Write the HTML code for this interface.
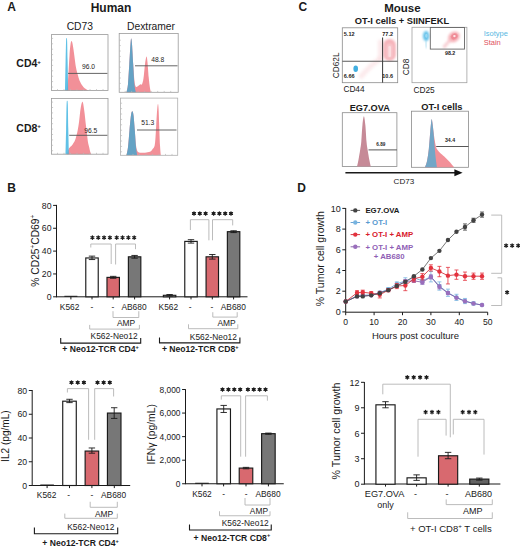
<!DOCTYPE html>
<html><head><meta charset="utf-8"><style>
html,body{margin:0;padding:0;background:#fff;width:520px;height:547px;overflow:hidden;}
svg{display:block;}
text{font-family:"Liberation Sans", sans-serif;}
</style></head><body>
<svg width="520" height="547" viewBox="0 0 520 547" font-family='"Liberation Sans", sans-serif'>
<rect width="520" height="547" fill="#ffffff"/>
<text x="7.2" y="10.6" font-size="12" font-weight="bold" fill="#1a1a1a" text-anchor="start">A</text>
<text x="90.7" y="12.1" font-size="12" font-weight="bold" fill="#1a1a1a" text-anchor="start">Human</text>
<text x="79.8" y="30.2" font-size="10.3" fill="#1a1a1a" text-anchor="middle">CD73</text>
<text x="151" y="30.2" font-size="10.3" fill="#1a1a1a" text-anchor="middle">Dextramer</text>
<text x="16.3" y="67.3" font-size="10.5" font-weight="bold" fill="#1a1a1a" text-anchor="start">CD4<tspan font-size="6.2" dy="-3.6">+</tspan></text>
<text x="16.3" y="131.9" font-size="10.5" font-weight="bold" fill="#1a1a1a" text-anchor="start">CD8<tspan font-size="6.2" dy="-3.6">+</tspan></text>
<path d="M66.50,90.50 C66.75,88.83 67.50,86.33 68.00,80.50 C68.50,74.67 69.08,61.50 69.50,55.50 C69.92,49.50 70.17,46.92 70.50,44.50 C70.83,42.08 71.17,41.17 71.50,41.00 C71.83,40.83 72.17,42.08 72.50,43.50 C72.83,44.92 73.15,47.13 73.50,49.50 C73.85,51.87 74.18,54.70 74.60,57.70 C75.02,60.70 75.48,64.68 76.00,67.50 C76.52,70.32 77.12,72.43 77.70,74.60 C78.28,76.77 78.73,78.68 79.50,80.50 C80.27,82.32 81.38,84.17 82.30,85.50 C83.22,86.83 83.97,87.67 85.00,88.50 C86.03,89.33 87.92,90.17 88.50,90.50 Z" fill="#f07c86" fill-opacity="0.85" stroke="none"/>
<path d="M65.00,90.50 C65.10,85.50 65.42,68.83 65.60,60.50 C65.78,52.17 65.93,44.20 66.10,40.50 C66.27,36.80 66.43,38.30 66.60,38.30 C66.77,38.30 66.93,36.80 67.10,40.50 C67.27,44.20 67.42,52.17 67.60,60.50 C67.78,68.83 68.10,85.50 68.20,90.50 Z" fill="#44b6e2" fill-opacity="0.85" stroke="none"/>
<rect x="51.5" y="34.6" width="56.5" height="55.9" fill="none" stroke="#9a9a9a" stroke-width="0.8"/>
<path d="M51.50,87.00h1.6M51.50,81.60h1.6M51.50,76.20h1.6M51.50,70.80h1.6M51.50,65.40h1.6M51.50,60.00h1.6M51.50,54.60h1.6M51.50,49.20h1.6M51.50,43.80h1.6M51.50,38.40h1.6M57.50,90.50v-1.4M64.00,90.50v-1.4M70.50,90.50v-1.4M77.00,90.50v-1.4M83.50,90.50v-1.4M90.00,90.50v-1.4M96.50,90.50v-1.4M103.00,90.50v-1.4" stroke="#b8b8b8" stroke-width="0.7" fill="none"/>
<line x1="68" y1="73.4" x2="107.4" y2="73.4" stroke="#555" stroke-width="0.9"/>
<text x="88.5" y="68.5" font-size="6.7" fill="#222" text-anchor="middle">96.0</text>
<path d="M126.50,92.30 C126.75,90.97 127.53,88.97 128.00,84.30 C128.47,79.63 128.88,70.97 129.30,64.30 C129.72,57.63 130.18,48.60 130.50,44.30 C130.82,40.00 130.95,38.50 131.20,38.50 C131.45,38.50 131.67,40.00 132.00,44.30 C132.33,48.60 132.80,58.30 133.20,64.30 C133.60,70.30 134.02,76.63 134.40,80.30 C134.78,83.97 135.07,85.22 135.50,86.30 C135.93,87.38 136.42,86.97 137.00,86.80 C137.58,86.63 138.42,85.72 139.00,85.30 C139.58,84.88 140.00,84.47 140.50,84.30 C141.00,84.13 141.50,85.30 142.00,84.30 C142.50,83.30 143.00,81.63 143.50,78.30 C144.00,74.97 144.50,67.93 145.00,64.30 C145.50,60.67 146.08,56.83 146.50,56.50 C146.92,56.17 147.13,58.83 147.50,62.30 C147.87,65.77 148.28,72.97 148.70,77.30 C149.12,81.63 149.62,85.80 150.00,88.30 C150.38,90.80 150.83,91.63 151.00,92.30 Z" fill="#f07c86" fill-opacity="0.85" stroke="none"/>
<path d="M126.50,92.30 C126.75,90.97 127.53,88.97 128.00,84.30 C128.47,79.63 128.88,70.97 129.30,64.30 C129.72,57.63 130.18,48.60 130.50,44.30 C130.82,40.00 130.95,38.50 131.20,38.50 C131.45,38.50 131.67,40.00 132.00,44.30 C132.33,48.60 132.80,57.63 133.20,64.30 C133.60,70.97 133.97,79.63 134.40,84.30 C134.83,88.97 135.57,90.97 135.80,92.30 Z" fill="#64a2c4" fill-opacity="1" stroke="none"/>
<rect x="119.2" y="33.4" width="58.999999999999986" height="58.9" fill="none" stroke="#9a9a9a" stroke-width="0.8"/>
<path d="M119.20,88.80h1.6M119.20,83.40h1.6M119.20,78.00h1.6M119.20,72.60h1.6M119.20,67.20h1.6M119.20,61.80h1.6M119.20,56.40h1.6M119.20,51.00h1.6M119.20,45.60h1.6M119.20,40.20h1.6M125.20,92.30v-1.4M131.70,92.30v-1.4M138.20,92.30v-1.4M144.70,92.30v-1.4M151.20,92.30v-1.4M157.70,92.30v-1.4M164.20,92.30v-1.4M170.70,92.30v-1.4" stroke="#b8b8b8" stroke-width="0.7" fill="none"/>
<line x1="135" y1="65.8" x2="177.5" y2="65.8" stroke="#555" stroke-width="0.9"/>
<text x="157.7" y="61.5" font-size="6.7" fill="#222" text-anchor="middle">48.8</text>
<path d="M67.00,154.20 C67.25,153.37 68.00,150.37 68.50,149.20 C69.00,148.03 69.42,147.87 70.00,147.20 C70.58,146.53 71.23,146.20 72.00,145.20 C72.77,144.20 73.93,142.53 74.60,141.20 C75.27,139.87 75.48,139.03 76.00,137.20 C76.52,135.37 77.20,132.70 77.70,130.20 C78.20,127.70 78.62,125.03 79.00,122.20 C79.38,119.37 79.67,115.87 80.00,113.20 C80.33,110.53 80.67,108.03 81.00,106.20 C81.33,104.37 81.73,102.90 82.00,102.20 C82.27,101.50 82.38,101.67 82.60,102.00 C82.82,102.33 82.97,102.33 83.30,104.20 C83.63,106.07 84.18,109.87 84.60,113.20 C85.02,116.53 85.42,120.82 85.80,124.20 C86.18,127.58 86.53,130.50 86.90,133.50 C87.27,136.50 87.62,139.92 88.00,142.20 C88.38,144.48 88.83,145.62 89.20,147.20 C89.57,148.78 89.87,150.53 90.20,151.70 C90.53,152.87 91.03,153.78 91.20,154.20 Z" fill="#f07c86" fill-opacity="0.85" stroke="none"/>
<path d="M65.50,154.20 C65.60,150.03 65.92,137.53 66.10,129.20 C66.28,120.87 66.42,108.90 66.60,104.20 C66.78,99.50 67.00,101.00 67.20,101.00 C67.40,101.00 67.62,99.50 67.80,104.20 C67.98,108.90 68.12,120.87 68.30,129.20 C68.48,137.53 68.80,150.03 68.90,154.20 Z" fill="#44b6e2" fill-opacity="0.85" stroke="none"/>
<rect x="51.5" y="98.4" width="56.5" height="55.79999999999998" fill="none" stroke="#9a9a9a" stroke-width="0.8"/>
<path d="M51.50,150.70h1.6M51.50,145.30h1.6M51.50,139.90h1.6M51.50,134.50h1.6M51.50,129.10h1.6M51.50,123.70h1.6M51.50,118.30h1.6M51.50,112.90h1.6M51.50,107.50h1.6M51.50,102.10h1.6M57.50,154.20v-1.4M64.00,154.20v-1.4M70.50,154.20v-1.4M77.00,154.20v-1.4M83.50,154.20v-1.4M90.00,154.20v-1.4M96.50,154.20v-1.4M103.00,154.20v-1.4" stroke="#b8b8b8" stroke-width="0.7" fill="none"/>
<line x1="69.2" y1="135.3" x2="107.4" y2="135.3" stroke="#555" stroke-width="0.9"/>
<text x="90.8" y="132.7" font-size="6.7" fill="#222" text-anchor="middle">96.5</text>
<path d="M126.50,155.30 C126.75,153.97 127.50,151.47 128.00,147.30 C128.50,143.13 129.00,135.63 129.50,130.30 C130.00,124.97 130.53,118.48 131.00,115.30 C131.47,112.12 131.88,111.20 132.30,111.20 C132.72,111.20 133.08,112.12 133.50,115.30 C133.92,118.48 134.38,125.30 134.80,130.30 C135.22,135.30 135.55,141.80 136.00,145.30 C136.45,148.80 136.83,150.07 137.50,151.30 C138.17,152.53 138.75,152.47 140.00,152.70 C141.25,152.93 143.33,152.85 145.00,152.70 C146.67,152.55 148.75,152.37 150.00,151.80 C151.25,151.23 151.73,150.30 152.50,149.30 C153.27,148.30 154.10,147.80 154.60,145.80 C155.10,143.80 155.23,140.63 155.50,137.30 C155.77,133.97 155.92,130.47 156.20,125.80 C156.48,121.13 156.90,112.95 157.20,109.30 C157.50,105.65 157.77,103.90 158.00,103.90 C158.23,103.90 158.40,105.65 158.60,109.30 C158.80,112.95 158.97,119.80 159.20,125.80 C159.43,131.80 159.73,140.38 160.00,145.30 C160.27,150.22 160.67,153.63 160.80,155.30 Z" fill="#f07c86" fill-opacity="0.85" stroke="none"/>
<path d="M126.50,155.30 C126.75,153.97 127.50,151.47 128.00,147.30 C128.50,143.13 129.00,135.63 129.50,130.30 C130.00,124.97 130.53,118.48 131.00,115.30 C131.47,112.12 131.88,111.20 132.30,111.20 C132.72,111.20 133.08,112.12 133.50,115.30 C133.92,118.48 134.38,124.97 134.80,130.30 C135.22,135.63 135.60,143.13 136.00,147.30 C136.40,151.47 137.00,153.97 137.20,155.30 Z" fill="#64a2c4" fill-opacity="1" stroke="none"/>
<rect x="120.5" y="98.1" width="57.19999999999999" height="57.20000000000002" fill="none" stroke="#b0b0b0" stroke-width="0.8"/>
<path d="M120.50,151.80h1.6M120.50,146.40h1.6M120.50,141.00h1.6M120.50,135.60h1.6M120.50,130.20h1.6M120.50,124.80h1.6M120.50,119.40h1.6M120.50,114.00h1.6M120.50,108.60h1.6M120.50,103.20h1.6M126.50,155.30v-1.4M133.00,155.30v-1.4M139.50,155.30v-1.4M146.00,155.30v-1.4M152.50,155.30v-1.4M159.00,155.30v-1.4M165.50,155.30v-1.4M172.00,155.30v-1.4" stroke="#b8b8b8" stroke-width="0.7" fill="none"/>
<line x1="137" y1="130" x2="176.5" y2="130" stroke="#555" stroke-width="0.9"/>
<text x="147.7" y="125" font-size="6.7" fill="#222" text-anchor="middle">51.3</text>
<text x="298.5" y="10.6" font-size="12" font-weight="bold" fill="#1a1a1a" text-anchor="start">C</text>
<text x="384.2" y="11.9" font-size="11.5" font-weight="bold" fill="#1a1a1a" text-anchor="start">Mouse</text>
<text x="354.8" y="24" font-size="9.3" font-weight="bold" fill="#1a1a1a" text-anchor="start">OT-I cells + SIINFEKL</text>
<defs><filter id="b1" x="-50%" y="-50%" width="200%" height="200%"><feGaussianBlur stdDeviation="0.9"/></filter><filter id="b2" x="-50%" y="-50%" width="200%" height="200%"><feGaussianBlur stdDeviation="1.6"/></filter><filter id="b05" x="-50%" y="-50%" width="200%" height="200%"><feGaussianBlur stdDeviation="0.5"/></filter></defs>
<rect x="342.3" y="27.8" width="55.39999999999998" height="54.900000000000006" fill="none" stroke="#8a8a8a" stroke-width="0.8"/>
<path d="M381,58 C374,63 366,70 360,78" stroke="#f6c4c9" stroke-width="5" fill="none" opacity="0.35" filter="url(#b2)"/>
<rect x="378" y="40" width="6" height="20" fill="#f8d4d8" opacity="0.5" filter="url(#b2)"/>
<rect x="383.4" y="39.0" width="12.4" height="21.8" rx="5.8" fill="#f6b3ba" filter="url(#b1)"/>
<rect x="386.4" y="43.5" width="6.4" height="15" rx="3.0" fill="#f8c8cd" filter="url(#b1)"/>
<rect x="388.4" y="46" width="2.6" height="11" rx="1.3" fill="#fbdde0" filter="url(#b05)"/>
<ellipse cx="355.7" cy="68.8" rx="2.3" ry="3.2" fill="#40aee0" filter="url(#b05)"/>
<line x1="342.3" y1="61.2" x2="397.7" y2="61.2" stroke="#5a5a5a" stroke-width="1.1"/>
<line x1="382.6" y1="37.5" x2="382.6" y2="82.7" stroke="#3a3a3a" stroke-width="1.0"/>
<text x="343.8" y="35.5" font-size="5.5" font-weight="bold" fill="#222" text-anchor="start">5.12</text>
<text x="382.3" y="35.5" font-size="5.5" font-weight="bold" fill="#222" text-anchor="start">77.2</text>
<text x="343.8" y="78.1" font-size="5.5" font-weight="bold" fill="#222" text-anchor="start">6.66</text>
<text x="382.3" y="78.1" font-size="5.5" font-weight="bold" fill="#222" text-anchor="start">10.6</text>
<text x="339.2" y="65.4" font-size="8.3" fill="#1a1a1a" text-anchor="middle" transform="rotate(-90 339.2 65.4)">CD62L</text>
<text x="343.4" y="91.5" font-size="8.3" fill="#1a1a1a" text-anchor="start">CD44</text>
<rect x="412" y="27.3" width="54.89999999999998" height="55.400000000000006" fill="none" stroke="#a0a0a0" stroke-width="0.8"/>
<path d="M450,40 C447.5,43 445.5,45.5 443.5,47.5" stroke="#f6c0c6" stroke-width="3.5" fill="none" opacity="0.7" filter="url(#b1)"/>
<ellipse cx="453.9" cy="36.9" rx="6.2" ry="5.2" transform="rotate(-35 453.9 36.9)" fill="#f6b6bc" filter="url(#b1)"/>
<ellipse cx="454.2" cy="36.4" rx="3.6" ry="3.0" transform="rotate(-35 454.2 36.4)" fill="#ef8a95" filter="url(#b05)"/>
<ellipse cx="454.4" cy="36.1" rx="1.3" ry="1.1" fill="#fde6e8" filter="url(#b05)"/>
<path d="M426,41 L426.6,48" stroke="#bfe5f4" stroke-width="2.2" fill="none" filter="url(#b1)"/>
<ellipse cx="426.1" cy="36.1" rx="3.2" ry="5.1" fill="#66c2ea" filter="url(#b1)"/>
<ellipse cx="426.4" cy="35.8" rx="1.3" ry="2" fill="#9ad8f2" filter="url(#b05)"/>
<rect x="430.3" y="27.5" width="34.2" height="21.6" fill="none" stroke="#666" stroke-width="0.9"/>
<text x="450.1" y="54.6" font-size="5.3" font-weight="bold" fill="#222" text-anchor="middle">98.2</text>
<text x="409.2" y="66.9" font-size="8.3" fill="#1a1a1a" text-anchor="middle" transform="rotate(-90 409.2 66.9)">CD8</text>
<text x="413.5" y="92.7" font-size="8.3" fill="#1a1a1a" text-anchor="start">CD25</text>
<text x="483.7" y="35.6" font-size="7.5" fill="#5ab8e2" text-anchor="start">Isotype</text>
<text x="483.7" y="45.4" font-size="7.5" fill="#e0505e" text-anchor="start">Stain</text>
<text x="349.7" y="110.8" font-size="9.2" font-weight="bold" fill="#1a1a1a" text-anchor="start">EG7.OVA</text>
<text x="421.2" y="110" font-size="9.3" font-weight="bold" fill="#1a1a1a" text-anchor="start">OT-I cells</text>
<rect x="342.3" y="112.7" width="54.599999999999966" height="53.8" fill="none" stroke="#8a8a8a" stroke-width="0.8"/>
<path d="M357.00,166.50 C357.24,165.42 357.93,162.75 358.45,160.00 C358.97,157.25 359.67,153.08 360.15,150.00 C360.62,146.92 360.92,145.67 361.30,141.50 C361.68,137.33 362.02,129.20 362.45,125.00 C362.88,120.80 363.42,116.30 363.90,116.30 C364.38,116.30 364.92,120.80 365.35,125.00 C365.78,129.20 366.12,137.33 366.50,141.50 C366.88,145.67 367.17,146.92 367.65,150.00 C368.12,153.08 368.83,157.25 369.35,160.00 C369.88,162.75 370.56,165.42 370.80,166.50 Z" fill="#c68a97" fill-opacity="1" stroke="none"/>
<line x1="368.5" y1="149.9" x2="396.9" y2="149.9" stroke="#444" stroke-width="0.9"/>
<text x="380.8" y="145.5" font-size="4.6" font-weight="bold" fill="#222" text-anchor="middle">6.89</text>
<rect x="411.5" y="111.2" width="57.0" height="56.10000000000001" fill="none" stroke="#8a8a8a" stroke-width="0.8"/>
<path d="M425.00,167.30 C425.33,166.30 426.37,164.30 427.00,161.30 C427.63,158.30 428.25,154.30 428.80,149.30 C429.35,144.30 429.83,136.22 430.30,131.30 C430.77,126.38 431.25,121.30 431.60,119.80 C431.95,118.30 432.07,120.22 432.40,122.30 C432.73,124.38 433.18,129.13 433.60,132.30 C434.02,135.47 434.45,138.72 434.90,141.30 C435.35,143.88 435.78,146.27 436.30,147.80 C436.82,149.33 437.38,149.68 438.00,150.50 C438.62,151.32 439.33,152.03 440.00,152.70 C440.67,153.37 441.33,153.90 442.00,154.50 C442.67,155.10 443.33,155.67 444.00,156.30 C444.67,156.93 445.33,157.63 446.00,158.30 C446.67,158.97 447.33,159.63 448.00,160.30 C448.67,160.97 449.33,161.57 450.00,162.30 C450.67,163.03 451.27,163.87 452.00,164.70 C452.73,165.53 454.00,166.87 454.40,167.30 Z" fill="#f07c86" fill-opacity="0.85" stroke="none"/>
<path d="M425.00,167.30 C425.33,166.30 426.37,164.30 427.00,161.30 C427.63,158.30 428.25,154.30 428.80,149.30 C429.35,144.30 429.85,136.25 430.30,131.30 C430.75,126.35 431.17,121.10 431.50,119.60 C431.83,118.10 431.97,120.18 432.30,122.30 C432.63,124.42 433.13,128.47 433.50,132.30 C433.87,136.13 434.15,141.13 434.50,145.30 C434.85,149.47 435.20,153.63 435.60,157.30 C436.00,160.97 436.68,165.63 436.90,167.30 Z" fill="#72a6c6" fill-opacity="1" stroke="none"/>
<line x1="436.2" y1="146.5" x2="468.5" y2="146.5" stroke="#444" stroke-width="0.9"/>
<text x="450" y="141.5" font-size="5.2" font-weight="bold" fill="#222" text-anchor="middle">34.4</text>
<line x1="345.4" y1="172.7" x2="455" y2="172.7" stroke="#1a1a1a" stroke-width="1.6"/>
<path d="M454.4,169.2 L462.6,172.7 L454.4,176.2 Z" fill="#111"/>
<text x="403.9" y="183.7" font-size="8.1" fill="#1a1a1a" text-anchor="middle">CD73</text>
<text x="7.2" y="191.9" font-size="12" font-weight="bold" fill="#1a1a1a" text-anchor="start">B</text>
<line x1="56.5" y1="204.9" x2="56.5" y2="297.3" stroke="#1a1a1a" stroke-width="1.0"/>
<line x1="53.1" y1="296.8" x2="56.5" y2="296.8" stroke="#1a1a1a" stroke-width="1.0"/>
<text x="51.5" y="299.932" font-size="8.7" fill="#1a1a1a" text-anchor="end">0</text>
<line x1="53.1" y1="273.95" x2="56.5" y2="273.95" stroke="#1a1a1a" stroke-width="1.0"/>
<text x="51.5" y="277.082" font-size="8.7" fill="#1a1a1a" text-anchor="end">20</text>
<line x1="53.1" y1="251.10000000000002" x2="56.5" y2="251.10000000000002" stroke="#1a1a1a" stroke-width="1.0"/>
<text x="51.5" y="254.23200000000003" font-size="8.7" fill="#1a1a1a" text-anchor="end">40</text>
<line x1="53.1" y1="228.25" x2="56.5" y2="228.25" stroke="#1a1a1a" stroke-width="1.0"/>
<text x="51.5" y="231.382" font-size="8.7" fill="#1a1a1a" text-anchor="end">60</text>
<line x1="53.1" y1="205.4" x2="56.5" y2="205.4" stroke="#1a1a1a" stroke-width="1.0"/>
<text x="51.5" y="208.532" font-size="8.7" fill="#1a1a1a" text-anchor="end">80</text>
<text x="39.3" y="250.7" font-size="10.25" fill="#1a1a1a" text-anchor="middle" transform="rotate(-90 39.3 250.7)">% CD25<tspan font-size="6.4" dy="-3.8">+</tspan><tspan dy="3.8">CD69</tspan><tspan font-size="6.4" dy="-3.8">+</tspan></text>
<line x1="56.5" y1="296.8" x2="247.5" y2="296.8" stroke="#1a1a1a" stroke-width="1.0"/>
<line x1="70.9" y1="296.8" x2="70.9" y2="299.40000000000003" stroke="#1a1a1a" stroke-width="1.0"/>
<line x1="92" y1="296.8" x2="92" y2="299.40000000000003" stroke="#1a1a1a" stroke-width="1.0"/>
<line x1="113.2" y1="296.8" x2="113.2" y2="299.40000000000003" stroke="#1a1a1a" stroke-width="1.0"/>
<line x1="134.6" y1="296.8" x2="134.6" y2="299.40000000000003" stroke="#1a1a1a" stroke-width="1.0"/>
<line x1="169.6" y1="296.8" x2="169.6" y2="299.40000000000003" stroke="#1a1a1a" stroke-width="1.0"/>
<line x1="191" y1="296.8" x2="191" y2="299.40000000000003" stroke="#1a1a1a" stroke-width="1.0"/>
<line x1="212.3" y1="296.8" x2="212.3" y2="299.40000000000003" stroke="#1a1a1a" stroke-width="1.0"/>
<line x1="233.6" y1="296.8" x2="233.6" y2="299.40000000000003" stroke="#1a1a1a" stroke-width="1.0"/>
<line x1="64.4" y1="296.3" x2="77.4" y2="296.3" stroke="#1a1a1a" stroke-width="1.0"/>
<rect x="85.78" y="257.96" width="12.45" height="38.84" fill="#ffffff" stroke="#1a1a1a" stroke-width="1.15"/>
<path d="M92.00,256.13L92.00,259.55M88.80,256.13L95.20,256.13M88.80,259.55L95.20,259.55" stroke="#1a1a1a" stroke-width="0.9"/>
<rect x="106.98" y="277.38" width="12.45" height="19.42" fill="#d8696f" stroke="#1a1a1a" stroke-width="1.15"/>
<path d="M113.20,276.35L113.20,278.29M110.00,276.35L116.40,276.35M110.00,278.29L116.40,278.29" stroke="#1a1a1a" stroke-width="0.9"/>
<rect x="128.38" y="256.81" width="12.45" height="39.99" fill="#777777" stroke="#1a1a1a" stroke-width="1.15"/>
<path d="M134.60,255.44L134.60,258.18M131.40,255.44L137.80,255.44M131.40,258.18L137.80,258.18" stroke="#1a1a1a" stroke-width="0.9"/>
<rect x="163.37" y="295.31" width="12.45" height="1.49" fill="#ffffff" stroke="#1a1a1a" stroke-width="1.15"/>
<path d="M169.60,294.51L169.60,296.00M166.40,294.51L172.80,294.51M166.40,296.00L172.80,296.00" stroke="#1a1a1a" stroke-width="0.9"/>
<rect x="184.77" y="241.39" width="12.45" height="55.41" fill="#ffffff" stroke="#1a1a1a" stroke-width="1.15"/>
<path d="M191.00,239.68L191.00,243.10M187.80,239.68L194.20,239.68M187.80,243.10L194.20,243.10" stroke="#1a1a1a" stroke-width="0.9"/>
<rect x="206.07" y="256.81" width="12.45" height="39.99" fill="#d8696f" stroke="#1a1a1a" stroke-width="1.15"/>
<path d="M212.30,254.53L212.30,259.10M209.10,254.53L215.50,254.53M209.10,259.10L215.50,259.10" stroke="#1a1a1a" stroke-width="0.9"/>
<rect x="227.37" y="231.68" width="12.45" height="65.12" fill="#777777" stroke="#1a1a1a" stroke-width="1.15"/>
<path d="M233.60,230.76L233.60,232.59M230.40,230.76L236.80,230.76M230.40,232.59L236.80,232.59" stroke="#1a1a1a" stroke-width="0.9"/>
<path d="M90.8,247.5 L90.8,244 L111.2,244 L111.2,264" fill="none" stroke="#b4b4b4" stroke-width="0.9"/>
<path d="M115.6,264.5 L115.6,244 L135.5,244 L135.5,249.2" fill="none" stroke="#b4b4b4" stroke-width="0.9"/>
<path d="M92.40,235.90L92.40,239.30M90.93,236.75L93.87,238.45M93.87,236.75L90.93,238.45" stroke="#1a1a1a" stroke-width="1.3" stroke-linecap="round"/>
<path d="M98.23,235.90L98.23,239.30M96.76,236.75L99.71,238.45M99.71,236.75L96.76,238.45" stroke="#1a1a1a" stroke-width="1.3" stroke-linecap="round"/>
<path d="M104.07,235.90L104.07,239.30M102.59,236.75L105.54,238.45M105.54,236.75L102.59,238.45" stroke="#1a1a1a" stroke-width="1.3" stroke-linecap="round"/>
<path d="M109.90,235.90L109.90,239.30M108.43,236.75L111.37,238.45M111.37,236.75L108.43,238.45" stroke="#1a1a1a" stroke-width="1.3" stroke-linecap="round"/>
<path d="M116.70,235.90L116.70,239.30M115.23,236.75L118.17,238.45M118.17,236.75L115.23,238.45" stroke="#1a1a1a" stroke-width="1.3" stroke-linecap="round"/>
<path d="M122.53,235.90L122.53,239.30M121.06,236.75L124.01,238.45M124.01,236.75L121.06,238.45" stroke="#1a1a1a" stroke-width="1.3" stroke-linecap="round"/>
<path d="M128.37,235.90L128.37,239.30M126.89,236.75L129.84,238.45M129.84,236.75L126.89,238.45" stroke="#1a1a1a" stroke-width="1.3" stroke-linecap="round"/>
<path d="M134.20,235.90L134.20,239.30M132.73,236.75L135.67,238.45M135.67,236.75L132.73,238.45" stroke="#1a1a1a" stroke-width="1.3" stroke-linecap="round"/>
<path d="M190.4,230 L190.4,219.7 L208.9,219.7 L208.9,240.3" fill="none" stroke="#b4b4b4" stroke-width="0.9"/>
<path d="M212.5,240.3 L212.5,219.7 L232.7,219.7 L232.7,225.4" fill="none" stroke="#b4b4b4" stroke-width="0.9"/>
<path d="M194.00,211.80L194.00,215.20M192.53,212.65L195.47,214.35M195.47,212.65L192.53,214.35" stroke="#1a1a1a" stroke-width="1.3" stroke-linecap="round"/>
<path d="M199.80,211.80L199.80,215.20M198.33,212.65L201.27,214.35M201.27,212.65L198.33,214.35" stroke="#1a1a1a" stroke-width="1.3" stroke-linecap="round"/>
<path d="M205.60,211.80L205.60,215.20M204.13,212.65L207.07,214.35M207.07,212.65L204.13,214.35" stroke="#1a1a1a" stroke-width="1.3" stroke-linecap="round"/>
<path d="M213.60,211.80L213.60,215.20M212.13,212.65L215.07,214.35M215.07,212.65L212.13,214.35" stroke="#1a1a1a" stroke-width="1.3" stroke-linecap="round"/>
<path d="M219.40,211.80L219.40,215.20M217.93,212.65L220.87,214.35M220.87,212.65L217.93,214.35" stroke="#1a1a1a" stroke-width="1.3" stroke-linecap="round"/>
<path d="M225.20,211.80L225.20,215.20M223.73,212.65L226.67,214.35M226.67,212.65L223.73,214.35" stroke="#1a1a1a" stroke-width="1.3" stroke-linecap="round"/>
<path d="M231.00,211.80L231.00,215.20M229.53,212.65L232.47,214.35M232.47,212.65L229.53,214.35" stroke="#1a1a1a" stroke-width="1.3" stroke-linecap="round"/>
<text x="69.6" y="309.5" font-size="8.4" fill="#1a1a1a" text-anchor="middle">K562</text>
<text x="91.8" y="309.5" font-size="8.4" fill="#1a1a1a" text-anchor="middle">-</text>
<text x="113" y="309.5" font-size="8.4" fill="#1a1a1a" text-anchor="middle">-</text>
<text x="134" y="309.5" font-size="8.4" fill="#1a1a1a" text-anchor="middle">AB680</text>
<text x="168.4" y="309.5" font-size="8.4" fill="#1a1a1a" text-anchor="middle">K562</text>
<text x="190.2" y="309.5" font-size="8.4" fill="#1a1a1a" text-anchor="middle">-</text>
<text x="211.8" y="309.5" font-size="8.4" fill="#1a1a1a" text-anchor="middle">-</text>
<text x="233.3" y="309.5" font-size="8.4" fill="#1a1a1a" text-anchor="middle">AB680</text>
<path d="M113,311.2 L113,317.5 L138.8,317.5 L138.8,311.2" fill="none" stroke="#b4b4b4" stroke-width="0.9"/>
<text x="135.2" y="326" font-size="8.4" fill="#1a1a1a" text-anchor="end">AMP</text>
<path d="M89.7,324.9 L89.7,329.1 L139.4,329.1 L139.4,324.9" fill="none" stroke="#b4b4b4" stroke-width="0.9"/>
<text x="137.6" y="338.7" font-size="8.4" fill="#1a1a1a" text-anchor="end">K562-Neo12</text>
<path d="M60.7,337.9 L60.7,343.1 L140.7,343.1 L140.7,337.9" fill="none" stroke="#1a1a1a" stroke-width="1.1"/>
<text x="100.6" y="352.4" font-size="8.6" font-weight="bold" fill="#1a1a1a" text-anchor="middle">+ Neo12-TCR CD4<tspan font-size="5.6" dy="-3.3">+</tspan></text>
<path d="M212.8,312.2 L212.8,317.1 L237.2,317.1 L237.2,312.2" fill="none" stroke="#b4b4b4" stroke-width="0.9"/>
<text x="235.7" y="326.4" font-size="8.4" fill="#1a1a1a" text-anchor="end">AMP</text>
<path d="M188.5,324.3 L188.5,328.7 L237.8,328.7 L237.8,324.3" fill="none" stroke="#b4b4b4" stroke-width="0.9"/>
<text x="236.9" y="339.7" font-size="8.4" fill="#1a1a1a" text-anchor="end">K562-Neo12</text>
<path d="M159.5,337.6 L159.5,342.9 L239.9,342.9 L239.9,337.6" fill="none" stroke="#1a1a1a" stroke-width="1.1"/>
<text x="200.2" y="351.8" font-size="8.6" font-weight="bold" fill="#1a1a1a" text-anchor="middle">+ Neo12-TCR CD8<tspan font-size="5.6" dy="-3.3">+</tspan></text>
<line x1="32.2" y1="390.0" x2="32.2" y2="486.0" stroke="#1a1a1a" stroke-width="1.0"/>
<line x1="28.800000000000004" y1="485.5" x2="32.2" y2="485.5" stroke="#1a1a1a" stroke-width="1.0"/>
<text x="27.200000000000003" y="488.632" font-size="8.7" fill="#1a1a1a" text-anchor="end">0</text>
<line x1="28.800000000000004" y1="461.75" x2="32.2" y2="461.75" stroke="#1a1a1a" stroke-width="1.0"/>
<text x="27.200000000000003" y="464.882" font-size="8.7" fill="#1a1a1a" text-anchor="end">20</text>
<line x1="28.800000000000004" y1="438.0" x2="32.2" y2="438.0" stroke="#1a1a1a" stroke-width="1.0"/>
<text x="27.200000000000003" y="441.132" font-size="8.7" fill="#1a1a1a" text-anchor="end">40</text>
<line x1="28.800000000000004" y1="414.25" x2="32.2" y2="414.25" stroke="#1a1a1a" stroke-width="1.0"/>
<text x="27.200000000000003" y="417.382" font-size="8.7" fill="#1a1a1a" text-anchor="end">60</text>
<line x1="28.800000000000004" y1="390.5" x2="32.2" y2="390.5" stroke="#1a1a1a" stroke-width="1.0"/>
<text x="27.200000000000003" y="393.632" font-size="8.7" fill="#1a1a1a" text-anchor="end">80</text>
<text x="8.6" y="436.1" font-size="10.1" fill="#1a1a1a" text-anchor="middle" transform="rotate(-90 8.6 436.1)">IL2 (pg/mL)</text>
<line x1="32.2" y1="485.5" x2="130.2" y2="485.5" stroke="#1a1a1a" stroke-width="1.0"/>
<line x1="47.1" y1="485.5" x2="47.1" y2="488.1" stroke="#1a1a1a" stroke-width="1.0"/>
<line x1="69.5" y1="485.5" x2="69.5" y2="488.1" stroke="#1a1a1a" stroke-width="1.0"/>
<line x1="91.9" y1="485.5" x2="91.9" y2="488.1" stroke="#1a1a1a" stroke-width="1.0"/>
<line x1="114.3" y1="485.5" x2="114.3" y2="488.1" stroke="#1a1a1a" stroke-width="1.0"/>
<line x1="40.300000000000004" y1="485.0" x2="53.9" y2="485.0" stroke="#1a1a1a" stroke-width="1.0"/>
<rect x="62.73" y="401.19" width="13.55" height="84.31" fill="#ffffff" stroke="#1a1a1a" stroke-width="1.15"/>
<path d="M69.50,399.29L69.50,402.61M66.30,399.29L72.70,399.29M66.30,402.61L72.70,402.61" stroke="#1a1a1a" stroke-width="0.9"/>
<rect x="85.13" y="451.06" width="13.55" height="34.44" fill="#d8696f" stroke="#1a1a1a" stroke-width="1.15"/>
<path d="M91.90,447.98L91.90,453.20M88.70,447.98L95.10,447.98M88.70,453.20L95.10,453.20" stroke="#1a1a1a" stroke-width="0.9"/>
<rect x="107.43" y="413.06" width="13.55" height="72.44" fill="#777777" stroke="#1a1a1a" stroke-width="1.15"/>
<path d="M114.20,407.72L114.20,418.41M111.00,407.72L117.40,407.72M111.00,418.41L117.40,418.41" stroke="#1a1a1a" stroke-width="0.9"/>
<path d="M67.4,392.5 L67.4,388.6 L88.6,388.6 L88.6,439.8" fill="none" stroke="#b4b4b4" stroke-width="0.9"/>
<path d="M94.7,439.8 L94.7,388.6 L113.6,388.6 L113.6,396.5" fill="none" stroke="#b4b4b4" stroke-width="0.9"/>
<path d="M71.50,380.80L71.50,384.20M70.03,381.65L72.97,383.35M72.97,381.65L70.03,383.35" stroke="#1a1a1a" stroke-width="1.3" stroke-linecap="round"/>
<path d="M77.70,380.80L77.70,384.20M76.23,381.65L79.17,383.35M79.17,381.65L76.23,383.35" stroke="#1a1a1a" stroke-width="1.3" stroke-linecap="round"/>
<path d="M83.90,380.80L83.90,384.20M82.43,381.65L85.37,383.35M85.37,381.65L82.43,383.35" stroke="#1a1a1a" stroke-width="1.3" stroke-linecap="round"/>
<path d="M97.50,380.80L97.50,384.20M96.03,381.65L98.97,383.35M98.97,381.65L96.03,383.35" stroke="#1a1a1a" stroke-width="1.3" stroke-linecap="round"/>
<path d="M103.65,380.80L103.65,384.20M102.18,381.65L105.12,383.35M105.12,381.65L102.18,383.35" stroke="#1a1a1a" stroke-width="1.3" stroke-linecap="round"/>
<path d="M109.80,380.80L109.80,384.20M108.33,381.65L111.27,383.35M111.27,381.65L108.33,383.35" stroke="#1a1a1a" stroke-width="1.3" stroke-linecap="round"/>
<text x="46.6" y="498.2" font-size="8.4" fill="#1a1a1a" text-anchor="middle">K562</text>
<text x="68.7" y="498.2" font-size="8.4" fill="#1a1a1a" text-anchor="middle">-</text>
<text x="91.9" y="498.2" font-size="8.4" fill="#1a1a1a" text-anchor="middle">-</text>
<text x="113.6" y="498.2" font-size="8.4" fill="#1a1a1a" text-anchor="middle">AB680</text>
<path d="M90.2,501.8 L90.2,507.3 L117.3,507.3 L117.3,501.8" fill="none" stroke="#b4b4b4" stroke-width="0.9"/>
<text x="113.1" y="516.6" font-size="8.4" fill="#1a1a1a" text-anchor="end">AMP</text>
<path d="M64.8,513.6 L64.8,518.3 L117.3,518.3 L117.3,513.6" fill="none" stroke="#b4b4b4" stroke-width="0.9"/>
<text x="114.3" y="529.5" font-size="8.4" fill="#1a1a1a" text-anchor="end">K562-Neo12</text>
<path d="M34.4,527.5 L34.4,533.8 L117.7,533.8 L117.7,527.5" fill="none" stroke="#1a1a1a" stroke-width="1.1"/>
<text x="80.6" y="545.8" font-size="8.6" font-weight="bold" fill="#1a1a1a" text-anchor="middle">+ Neo12-TCR CD4<tspan font-size="5.6" dy="-3.3">+</tspan></text>
<line x1="185.5" y1="389.2" x2="185.5" y2="484.2" stroke="#1a1a1a" stroke-width="1.0"/>
<line x1="182.1" y1="483.75" x2="185.5" y2="483.75" stroke="#1a1a1a" stroke-width="1.0"/>
<text x="180.5" y="486.774" font-size="8.4" fill="#1a1a1a" text-anchor="end">0</text>
<line x1="182.1" y1="460.188" x2="185.5" y2="460.188" stroke="#1a1a1a" stroke-width="1.0"/>
<text x="180.5" y="463.212" font-size="8.4" fill="#1a1a1a" text-anchor="end">2,000</text>
<line x1="182.1" y1="436.626" x2="185.5" y2="436.626" stroke="#1a1a1a" stroke-width="1.0"/>
<text x="180.5" y="439.65" font-size="8.4" fill="#1a1a1a" text-anchor="end">4,000</text>
<line x1="182.1" y1="413.064" x2="185.5" y2="413.064" stroke="#1a1a1a" stroke-width="1.0"/>
<text x="180.5" y="416.088" font-size="8.4" fill="#1a1a1a" text-anchor="end">6,000</text>
<line x1="182.1" y1="389.502" x2="185.5" y2="389.502" stroke="#1a1a1a" stroke-width="1.0"/>
<text x="180.5" y="392.526" font-size="8.4" fill="#1a1a1a" text-anchor="end">8,000</text>
<text x="155.3" y="434.3" font-size="10.35" fill="#1a1a1a" text-anchor="middle" transform="rotate(-90 155.3 434.3)">IFN&#947; (pg/mL)</text>
<line x1="185.5" y1="483.75" x2="283.75" y2="483.75" stroke="#1a1a1a" stroke-width="1.0"/>
<line x1="202" y1="483.75" x2="202" y2="486.35" stroke="#1a1a1a" stroke-width="1.0"/>
<line x1="223.6" y1="483.75" x2="223.6" y2="486.35" stroke="#1a1a1a" stroke-width="1.0"/>
<line x1="246" y1="483.75" x2="246" y2="486.35" stroke="#1a1a1a" stroke-width="1.0"/>
<line x1="268.4" y1="483.75" x2="268.4" y2="486.35" stroke="#1a1a1a" stroke-width="1.0"/>
<line x1="195.2" y1="483.25" x2="208.8" y2="483.25" stroke="#1a1a1a" stroke-width="1.0"/>
<rect x="216.92" y="408.94" width="13.55" height="74.81" fill="#ffffff" stroke="#1a1a1a" stroke-width="1.15"/>
<path d="M223.70,405.41L223.70,412.47M220.50,405.41L226.90,405.41M220.50,412.47L226.90,412.47" stroke="#1a1a1a" stroke-width="0.9"/>
<rect x="239.22" y="468.08" width="13.55" height="15.67" fill="#d8696f" stroke="#1a1a1a" stroke-width="1.15"/>
<path d="M246.00,467.37L246.00,468.79M242.80,467.37L249.20,467.37M242.80,468.79L249.20,468.79" stroke="#1a1a1a" stroke-width="0.9"/>
<rect x="261.62" y="433.68" width="13.55" height="50.07" fill="#777777" stroke="#1a1a1a" stroke-width="1.15"/>
<path d="M268.40,433.09L268.40,434.27M265.20,433.09L271.60,433.09M265.20,434.27L271.60,434.27" stroke="#1a1a1a" stroke-width="0.9"/>
<path d="M221.3,399.6 L221.3,395.8 L240.7,395.8 L240.7,456.7" fill="none" stroke="#b4b4b4" stroke-width="0.9"/>
<path d="M245.6,456.7 L245.6,395.8 L267.4,395.8 L267.4,400.7" fill="none" stroke="#b4b4b4" stroke-width="0.9"/>
<path d="M222.50,387.80L222.50,391.20M221.03,388.65L223.97,390.35M223.97,388.65L221.03,390.35" stroke="#1a1a1a" stroke-width="1.3" stroke-linecap="round"/>
<path d="M228.40,387.80L228.40,391.20M226.93,388.65L229.87,390.35M229.87,388.65L226.93,390.35" stroke="#1a1a1a" stroke-width="1.3" stroke-linecap="round"/>
<path d="M234.30,387.80L234.30,391.20M232.83,388.65L235.77,390.35M235.77,388.65L232.83,390.35" stroke="#1a1a1a" stroke-width="1.3" stroke-linecap="round"/>
<path d="M240.20,387.80L240.20,391.20M238.73,388.65L241.67,390.35M241.67,388.65L238.73,390.35" stroke="#1a1a1a" stroke-width="1.3" stroke-linecap="round"/>
<path d="M247.90,387.80L247.90,391.20M246.43,388.65L249.37,390.35M249.37,388.65L246.43,390.35" stroke="#1a1a1a" stroke-width="1.3" stroke-linecap="round"/>
<path d="M253.77,387.80L253.77,391.20M252.29,388.65L255.24,390.35M255.24,388.65L252.29,390.35" stroke="#1a1a1a" stroke-width="1.3" stroke-linecap="round"/>
<path d="M259.63,387.80L259.63,391.20M258.16,388.65L261.11,390.35M261.11,388.65L258.16,390.35" stroke="#1a1a1a" stroke-width="1.3" stroke-linecap="round"/>
<path d="M265.50,387.80L265.50,391.20M264.03,388.65L266.97,390.35M266.97,388.65L264.03,390.35" stroke="#1a1a1a" stroke-width="1.3" stroke-linecap="round"/>
<text x="202" y="497.3" font-size="8.4" fill="#1a1a1a" text-anchor="middle">K562</text>
<text x="223.75" y="497.3" font-size="8.4" fill="#1a1a1a" text-anchor="middle">-</text>
<text x="246.25" y="497.3" font-size="8.4" fill="#1a1a1a" text-anchor="middle">-</text>
<text x="268" y="497.3" font-size="8.4" fill="#1a1a1a" text-anchor="middle">AB680</text>
<path d="M245,498 L245,505 L270,505 L270,498" fill="none" stroke="#b4b4b4" stroke-width="0.9"/>
<text x="268" y="513.75" font-size="8.4" fill="#1a1a1a" text-anchor="end">AMP</text>
<path d="M219.5,511.25 L219.5,515.75 L270,515.75 L270,511.25" fill="none" stroke="#b4b4b4" stroke-width="0.9"/>
<text x="268.75" y="526.25" font-size="8.4" fill="#1a1a1a" text-anchor="end">K562-Neo12</text>
<path d="M189.5,524.5 L189.5,530 L271.25,530 L271.25,524.5" fill="none" stroke="#1a1a1a" stroke-width="1.1"/>
<text x="231.9" y="540.5" font-size="8.6" font-weight="bold" fill="#1a1a1a" text-anchor="middle">+ Neo12-TCR CD8<tspan font-size="5.6" dy="-3.3">+</tspan></text>
<text x="297.3" y="191.6" font-size="12" font-weight="bold" fill="#1a1a1a" text-anchor="start">D</text>
<line x1="345.7" y1="208.0" x2="345.7" y2="312.4" stroke="#1a1a1a" stroke-width="1.0"/>
<line x1="342.3" y1="311.9" x2="345.7" y2="311.9" stroke="#1a1a1a" stroke-width="1.0"/>
<text x="340.7" y="315.14" font-size="9" fill="#1a1a1a" text-anchor="end">0</text>
<line x1="342.3" y1="291.2" x2="345.7" y2="291.2" stroke="#1a1a1a" stroke-width="1.0"/>
<text x="340.7" y="294.44" font-size="9" fill="#1a1a1a" text-anchor="end">2</text>
<line x1="342.3" y1="270.5" x2="345.7" y2="270.5" stroke="#1a1a1a" stroke-width="1.0"/>
<text x="340.7" y="273.74" font-size="9" fill="#1a1a1a" text-anchor="end">4</text>
<line x1="342.3" y1="249.79999999999998" x2="345.7" y2="249.79999999999998" stroke="#1a1a1a" stroke-width="1.0"/>
<text x="340.7" y="253.04" font-size="9" fill="#1a1a1a" text-anchor="end">6</text>
<line x1="342.3" y1="229.09999999999997" x2="345.7" y2="229.09999999999997" stroke="#1a1a1a" stroke-width="1.0"/>
<text x="340.7" y="232.33999999999997" font-size="9" fill="#1a1a1a" text-anchor="end">8</text>
<line x1="342.3" y1="208.39999999999998" x2="345.7" y2="208.39999999999998" stroke="#1a1a1a" stroke-width="1.0"/>
<text x="340.7" y="211.64" font-size="9" fill="#1a1a1a" text-anchor="end">10</text>
<line x1="345.7" y1="312.2" x2="487.7" y2="312.2" stroke="#1a1a1a" stroke-width="1.0"/>
<line x1="345.7" y1="312.2" x2="345.7" y2="315.2" stroke="#1a1a1a" stroke-width="1.0"/>
<line x1="374.09999999999997" y1="312.2" x2="374.09999999999997" y2="315.2" stroke="#1a1a1a" stroke-width="1.0"/>
<line x1="402.5" y1="312.2" x2="402.5" y2="315.2" stroke="#1a1a1a" stroke-width="1.0"/>
<line x1="430.9" y1="312.2" x2="430.9" y2="315.2" stroke="#1a1a1a" stroke-width="1.0"/>
<line x1="459.29999999999995" y1="312.2" x2="459.29999999999995" y2="315.2" stroke="#1a1a1a" stroke-width="1.0"/>
<line x1="487.7" y1="312.2" x2="487.7" y2="315.2" stroke="#1a1a1a" stroke-width="1.0"/>
<text x="345.7" y="324.8" font-size="8.6" fill="#1a1a1a" text-anchor="middle">0</text>
<text x="374.09999999999997" y="324.8" font-size="8.6" fill="#1a1a1a" text-anchor="middle">10</text>
<text x="402.5" y="324.8" font-size="8.6" fill="#1a1a1a" text-anchor="middle">20</text>
<text x="430.9" y="324.8" font-size="8.6" fill="#1a1a1a" text-anchor="middle">30</text>
<text x="459.29999999999995" y="324.8" font-size="8.6" fill="#1a1a1a" text-anchor="middle">40</text>
<text x="487.7" y="324.8" font-size="8.6" fill="#1a1a1a" text-anchor="middle">50</text>
<text x="415.5" y="338.6" font-size="9.5" fill="#1a1a1a" text-anchor="middle">Hours post coculture</text>
<text x="323.6" y="258.7" font-size="10.5" fill="#1a1a1a" text-anchor="middle" transform="rotate(-90 323.6 258.7)">% Tumor cell growth</text>
<path d="M345.70,301.55 L357.06,295.86 L362.74,295.34 L371.26,294.82 L379.78,292.75 L388.30,289.13 L396.82,283.95 L405.34,280.85 L413.86,277.75 L422.38,280.85 L430.90,276.71 L439.42,286.02 L447.94,292.75 L456.46,297.41 L464.98,301.03 L473.50,303.41 L482.02,305.07" fill="none" stroke="#5a9ad0" stroke-width="0.8"/>
<path d="M357.06,294.30L357.06,297.41M355.06,294.30L359.06,294.30M355.06,297.41L359.06,297.41" stroke="#78b4e0" stroke-width="0.8"/>
<path d="M362.74,293.79L362.74,296.89M360.74,293.79L364.74,293.79M360.74,296.89L364.74,296.89" stroke="#78b4e0" stroke-width="0.8"/>
<path d="M379.78,291.20L379.78,294.30M377.78,291.20L381.78,291.20M377.78,294.30L381.78,294.30" stroke="#78b4e0" stroke-width="0.8"/>
<path d="M388.30,287.58L388.30,290.68M386.30,287.58L390.30,287.58M386.30,290.68L390.30,290.68" stroke="#78b4e0" stroke-width="0.8"/>
<path d="M396.82,281.88L396.82,286.02M394.82,281.88L398.82,281.88M394.82,286.02L398.82,286.02" stroke="#78b4e0" stroke-width="0.8"/>
<path d="M405.34,277.75L405.34,283.95M403.34,277.75L407.34,277.75M403.34,283.95L407.34,283.95" stroke="#78b4e0" stroke-width="0.8"/>
<path d="M413.86,275.67L413.86,279.81M411.86,275.67L415.86,275.67M411.86,279.81L415.86,279.81" stroke="#78b4e0" stroke-width="0.8"/>
<path d="M422.38,277.75L422.38,283.95M420.38,277.75L424.38,277.75M420.38,283.95L424.38,283.95" stroke="#78b4e0" stroke-width="0.8"/>
<path d="M430.90,271.53L430.90,281.88M428.90,271.53L432.90,271.53M428.90,281.88L432.90,281.88" stroke="#78b4e0" stroke-width="0.8"/>
<path d="M439.42,281.88L439.42,290.16M437.42,281.88L441.42,281.88M437.42,290.16L441.42,290.16" stroke="#78b4e0" stroke-width="0.8"/>
<path d="M447.94,289.13L447.94,296.38M445.94,289.13L449.94,289.13M445.94,296.38L449.94,296.38" stroke="#78b4e0" stroke-width="0.8"/>
<path d="M456.46,294.30L456.46,300.51M454.46,294.30L458.46,294.30M454.46,300.51L458.46,300.51" stroke="#78b4e0" stroke-width="0.8"/>
<path d="M464.98,298.44L464.98,303.62M462.98,298.44L466.98,298.44M462.98,303.62L466.98,303.62" stroke="#78b4e0" stroke-width="0.8"/>
<path d="M473.50,301.86L473.50,304.97M471.50,301.86L475.50,301.86M471.50,304.97L475.50,304.97" stroke="#78b4e0" stroke-width="0.8"/>
<circle cx="345.70" cy="301.55" r="2.2" fill="#78b4e0"/>
<circle cx="357.06" cy="295.86" r="2.2" fill="#78b4e0"/>
<circle cx="362.74" cy="295.34" r="2.2" fill="#78b4e0"/>
<circle cx="371.26" cy="294.82" r="2.2" fill="#78b4e0"/>
<circle cx="379.78" cy="292.75" r="2.2" fill="#78b4e0"/>
<circle cx="388.30" cy="289.13" r="2.2" fill="#78b4e0"/>
<circle cx="396.82" cy="283.95" r="2.2" fill="#78b4e0"/>
<circle cx="405.34" cy="280.85" r="2.2" fill="#78b4e0"/>
<circle cx="413.86" cy="277.75" r="2.2" fill="#78b4e0"/>
<circle cx="422.38" cy="280.85" r="2.2" fill="#78b4e0"/>
<circle cx="430.90" cy="276.71" r="2.2" fill="#78b4e0"/>
<circle cx="439.42" cy="286.02" r="2.2" fill="#78b4e0"/>
<circle cx="447.94" cy="292.75" r="2.2" fill="#78b4e0"/>
<circle cx="456.46" cy="297.41" r="2.2" fill="#78b4e0"/>
<circle cx="464.98" cy="301.03" r="2.2" fill="#78b4e0"/>
<circle cx="473.50" cy="303.41" r="2.2" fill="#78b4e0"/>
<circle cx="482.02" cy="305.07" r="2.2" fill="#78b4e0"/>
<path d="M345.70,301.55 L357.06,296.38 L362.74,295.86 L371.26,295.34 L379.78,292.75 L388.30,290.16 L396.82,286.02 L405.34,281.37 L413.86,280.85 L422.38,282.20 L430.90,276.92 L439.42,286.85 L447.94,293.06 L456.46,297.72 L464.98,301.24 L473.50,303.52 L482.02,305.07" fill="none" stroke="#7a52a0" stroke-width="0.8"/>
<path d="M396.82,284.47L396.82,287.58M394.82,284.47L398.82,284.47M394.82,287.58L398.82,287.58" stroke="#9a6ebc" stroke-width="0.8"/>
<path d="M405.34,279.81L405.34,282.92M403.34,279.81L407.34,279.81M403.34,282.92L407.34,282.92" stroke="#9a6ebc" stroke-width="0.8"/>
<path d="M413.86,279.30L413.86,282.40M411.86,279.30L415.86,279.30M411.86,282.40L415.86,282.40" stroke="#9a6ebc" stroke-width="0.8"/>
<path d="M422.38,280.13L422.38,284.27M420.38,280.13L424.38,280.13M420.38,284.27L424.38,284.27" stroke="#9a6ebc" stroke-width="0.8"/>
<path d="M430.90,274.85L430.90,278.99M428.90,274.85L432.90,274.85M428.90,278.99L432.90,278.99" stroke="#9a6ebc" stroke-width="0.8"/>
<path d="M439.42,284.78L439.42,288.92M437.42,284.78L441.42,284.78M437.42,288.92L441.42,288.92" stroke="#9a6ebc" stroke-width="0.8"/>
<path d="M447.94,291.51L447.94,294.62M445.94,291.51L449.94,291.51M445.94,294.62L449.94,294.62" stroke="#9a6ebc" stroke-width="0.8"/>
<circle cx="345.70" cy="301.55" r="2.2" fill="#9a6ebc"/>
<circle cx="357.06" cy="296.38" r="2.2" fill="#9a6ebc"/>
<circle cx="362.74" cy="295.86" r="2.2" fill="#9a6ebc"/>
<circle cx="371.26" cy="295.34" r="2.2" fill="#9a6ebc"/>
<circle cx="379.78" cy="292.75" r="2.2" fill="#9a6ebc"/>
<circle cx="388.30" cy="290.16" r="2.2" fill="#9a6ebc"/>
<circle cx="396.82" cy="286.02" r="2.2" fill="#9a6ebc"/>
<circle cx="405.34" cy="281.37" r="2.2" fill="#9a6ebc"/>
<circle cx="413.86" cy="280.85" r="2.2" fill="#9a6ebc"/>
<circle cx="422.38" cy="282.20" r="2.2" fill="#9a6ebc"/>
<circle cx="430.90" cy="276.92" r="2.2" fill="#9a6ebc"/>
<circle cx="439.42" cy="286.85" r="2.2" fill="#9a6ebc"/>
<circle cx="447.94" cy="293.06" r="2.2" fill="#9a6ebc"/>
<circle cx="456.46" cy="297.72" r="2.2" fill="#9a6ebc"/>
<circle cx="464.98" cy="301.24" r="2.2" fill="#9a6ebc"/>
<circle cx="473.50" cy="303.52" r="2.2" fill="#9a6ebc"/>
<circle cx="482.02" cy="305.07" r="2.2" fill="#9a6ebc"/>
<path d="M345.70,301.55 L357.06,292.75 L362.74,292.23 L371.26,293.27 L379.78,294.82 L388.30,290.16 L396.82,286.02 L405.34,285.51 L413.86,278.78 L422.38,276.71 L430.90,267.91 L439.42,271.53 L447.94,275.67 L456.46,274.64 L464.98,276.19 L473.50,276.19 L482.02,276.19" fill="none" stroke="#d0202c" stroke-width="0.8"/>
<path d="M357.06,290.68L357.06,294.82M355.06,290.68L359.06,290.68M355.06,294.82L359.06,294.82" stroke="#e3323e" stroke-width="0.8"/>
<path d="M362.74,290.16L362.74,294.30M360.74,290.16L364.74,290.16M360.74,294.30L364.74,294.30" stroke="#e3323e" stroke-width="0.8"/>
<path d="M371.26,291.72L371.26,294.82M369.26,291.72L373.26,291.72M369.26,294.82L373.26,294.82" stroke="#e3323e" stroke-width="0.8"/>
<path d="M379.78,291.72L379.78,297.93M377.78,291.72L381.78,291.72M377.78,297.93L381.78,297.93" stroke="#e3323e" stroke-width="0.8"/>
<path d="M388.30,288.61L388.30,291.72M386.30,288.61L390.30,288.61M386.30,291.72L390.30,291.72" stroke="#e3323e" stroke-width="0.8"/>
<path d="M396.82,283.44L396.82,288.61M394.82,283.44L398.82,283.44M394.82,288.61L398.82,288.61" stroke="#e3323e" stroke-width="0.8"/>
<path d="M405.34,280.33L405.34,290.68M403.34,280.33L407.34,280.33M403.34,290.68L407.34,290.68" stroke="#e3323e" stroke-width="0.8"/>
<path d="M413.86,275.67L413.86,281.88M411.86,275.67L415.86,275.67M411.86,281.88L415.86,281.88" stroke="#e3323e" stroke-width="0.8"/>
<path d="M422.38,273.60L422.38,279.81M420.38,273.60L424.38,273.60M420.38,279.81L424.38,279.81" stroke="#e3323e" stroke-width="0.8"/>
<path d="M430.90,264.81L430.90,271.02M428.90,264.81L432.90,264.81M428.90,271.02L432.90,271.02" stroke="#e3323e" stroke-width="0.8"/>
<path d="M439.42,266.36L439.42,276.71M437.42,266.36L441.42,266.36M437.42,276.71L441.42,276.71" stroke="#e3323e" stroke-width="0.8"/>
<path d="M447.94,267.39L447.94,283.95M445.94,267.39L449.94,267.39M445.94,283.95L449.94,283.95" stroke="#e3323e" stroke-width="0.8"/>
<path d="M456.46,269.98L456.46,279.30M454.46,269.98L458.46,269.98M454.46,279.30L458.46,279.30" stroke="#e3323e" stroke-width="0.8"/>
<path d="M464.98,272.05L464.98,280.33M462.98,272.05L466.98,272.05M462.98,280.33L466.98,280.33" stroke="#e3323e" stroke-width="0.8"/>
<path d="M473.50,273.09L473.50,279.30M471.50,273.09L475.50,273.09M471.50,279.30L475.50,279.30" stroke="#e3323e" stroke-width="0.8"/>
<path d="M482.02,273.09L482.02,279.30M480.02,273.09L484.02,273.09M480.02,279.30L484.02,279.30" stroke="#e3323e" stroke-width="0.8"/>
<circle cx="345.70" cy="301.55" r="2.2" fill="#e3323e"/>
<circle cx="357.06" cy="292.75" r="2.2" fill="#e3323e"/>
<circle cx="362.74" cy="292.23" r="2.2" fill="#e3323e"/>
<circle cx="371.26" cy="293.27" r="2.2" fill="#e3323e"/>
<circle cx="379.78" cy="294.82" r="2.2" fill="#e3323e"/>
<circle cx="388.30" cy="290.16" r="2.2" fill="#e3323e"/>
<circle cx="396.82" cy="286.02" r="2.2" fill="#e3323e"/>
<circle cx="405.34" cy="285.51" r="2.2" fill="#e3323e"/>
<circle cx="413.86" cy="278.78" r="2.2" fill="#e3323e"/>
<circle cx="422.38" cy="276.71" r="2.2" fill="#e3323e"/>
<circle cx="430.90" cy="267.91" r="2.2" fill="#e3323e"/>
<circle cx="439.42" cy="271.53" r="2.2" fill="#e3323e"/>
<circle cx="447.94" cy="275.67" r="2.2" fill="#e3323e"/>
<circle cx="456.46" cy="274.64" r="2.2" fill="#e3323e"/>
<circle cx="464.98" cy="276.19" r="2.2" fill="#e3323e"/>
<circle cx="473.50" cy="276.19" r="2.2" fill="#e3323e"/>
<circle cx="482.02" cy="276.19" r="2.2" fill="#e3323e"/>
<path d="M345.70,301.55 L357.06,296.38 L362.74,296.38 L371.26,295.34 L379.78,293.27 L388.30,290.16 L396.82,286.02 L405.34,281.88 L413.86,276.19 L422.38,269.46 L430.90,258.08 L439.42,250.83 L447.94,239.97 L456.46,231.69 L464.98,227.03 L473.50,220.30 L482.02,214.61" fill="none" stroke="#555" stroke-width="0.8"/>
<path d="M464.98,223.92L464.98,230.13M462.98,223.92L466.98,223.92M462.98,230.13L466.98,230.13" stroke="#424242" stroke-width="0.8"/>
<path d="M473.50,218.23L473.50,222.37M471.50,218.23L475.50,218.23M471.50,222.37L475.50,222.37" stroke="#424242" stroke-width="0.8"/>
<path d="M482.02,212.02L482.02,217.20M480.02,212.02L484.02,212.02M480.02,217.20L484.02,217.20" stroke="#424242" stroke-width="0.8"/>
<circle cx="345.70" cy="301.55" r="2.2" fill="#424242"/>
<circle cx="357.06" cy="296.38" r="2.2" fill="#424242"/>
<circle cx="362.74" cy="296.38" r="2.2" fill="#424242"/>
<circle cx="371.26" cy="295.34" r="2.2" fill="#424242"/>
<circle cx="379.78" cy="293.27" r="2.2" fill="#424242"/>
<circle cx="388.30" cy="290.16" r="2.2" fill="#424242"/>
<circle cx="396.82" cy="286.02" r="2.2" fill="#424242"/>
<circle cx="405.34" cy="281.88" r="2.2" fill="#424242"/>
<circle cx="413.86" cy="276.19" r="2.2" fill="#424242"/>
<circle cx="422.38" cy="269.46" r="2.2" fill="#424242"/>
<circle cx="430.90" cy="258.08" r="2.2" fill="#424242"/>
<circle cx="439.42" cy="250.83" r="2.2" fill="#424242"/>
<circle cx="447.94" cy="239.97" r="2.2" fill="#424242"/>
<circle cx="456.46" cy="231.69" r="2.2" fill="#424242"/>
<circle cx="464.98" cy="227.03" r="2.2" fill="#424242"/>
<circle cx="473.50" cy="220.30" r="2.2" fill="#424242"/>
<circle cx="482.02" cy="214.61" r="2.2" fill="#424242"/>
<line x1="350.6" y1="210.4" x2="360.1" y2="210.4" stroke="#444" stroke-width="0.9"/>
<circle cx="355.3" cy="210.4" r="2.2" fill="#424242"/>
<text x="365.4" y="213.20000000000002" font-size="7.8" font-weight="bold" fill="#1a1a1a" text-anchor="start">EG7.OVA</text>
<line x1="350.6" y1="222.5" x2="360.1" y2="222.5" stroke="#5a9ad0" stroke-width="0.9"/>
<circle cx="355.3" cy="222.5" r="2.2" fill="#78b4e0"/>
<text x="365.4" y="225.3" font-size="7.8" font-weight="bold" fill="#5a9ad0" text-anchor="start">+ OT-I</text>
<line x1="350.6" y1="234.6" x2="360.1" y2="234.6" stroke="#d0202c" stroke-width="0.9"/>
<circle cx="355.3" cy="234.6" r="2.2" fill="#e3323e"/>
<text x="365.4" y="237.4" font-size="7.8" font-weight="bold" fill="#d8202c" text-anchor="start">+ OT-I + AMP</text>
<line x1="350.6" y1="246.8" x2="360.1" y2="246.8" stroke="#7a52a0" stroke-width="0.9"/>
<circle cx="355.3" cy="246.8" r="2.2" fill="#9a6ebc"/>
<text x="365.4" y="249.60000000000002" font-size="7.8" font-weight="bold" fill="#8f5fb5" text-anchor="start">+ OT-I + AMP</text>
<text x="373.8" y="259.1" font-size="7.8" font-weight="bold" fill="#8f5fb5" text-anchor="start">+ AB680</text>
<path d="M491.2,215.1 L501.7,215.1 L501.7,273.3 L491.2,273.3" fill="none" stroke="#b4b4b4" stroke-width="0.9"/>
<path d="M497.5,277.8 L501.7,277.8 L501.7,305.5 L491.2,305.5" fill="none" stroke="#b4b4b4" stroke-width="0.9"/>
<path d="M506.10,243.90L506.10,247.30M504.63,244.75L507.57,246.45M507.57,244.75L504.63,246.45" stroke="#1a1a1a" stroke-width="1.3" stroke-linecap="round"/>
<path d="M512.15,243.90L512.15,247.30M510.68,244.75L513.62,246.45M513.62,244.75L510.68,246.45" stroke="#1a1a1a" stroke-width="1.3" stroke-linecap="round"/>
<path d="M518.20,243.90L518.20,247.30M516.73,244.75L519.67,246.45M519.67,244.75L516.73,246.45" stroke="#1a1a1a" stroke-width="1.3" stroke-linecap="round"/>
<path d="M507.10,290.70L507.10,294.10M505.63,291.55L508.57,293.25M508.57,291.55L505.63,293.25" stroke="#1a1a1a" stroke-width="1.3" stroke-linecap="round"/>
<line x1="364.4" y1="382.0" x2="364.4" y2="484.6" stroke="#1a1a1a" stroke-width="1.0"/>
<line x1="361.0" y1="484.2" x2="364.4" y2="484.2" stroke="#1a1a1a" stroke-width="1.0"/>
<text x="359.4" y="487.44" font-size="9" fill="#1a1a1a" text-anchor="end">0</text>
<line x1="361.0" y1="458.73" x2="364.4" y2="458.73" stroke="#1a1a1a" stroke-width="1.0"/>
<text x="359.4" y="461.97" font-size="9" fill="#1a1a1a" text-anchor="end">3</text>
<line x1="361.0" y1="433.26" x2="364.4" y2="433.26" stroke="#1a1a1a" stroke-width="1.0"/>
<text x="359.4" y="436.5" font-size="9" fill="#1a1a1a" text-anchor="end">6</text>
<line x1="361.0" y1="407.78999999999996" x2="364.4" y2="407.78999999999996" stroke="#1a1a1a" stroke-width="1.0"/>
<text x="359.4" y="411.03" font-size="9" fill="#1a1a1a" text-anchor="end">9</text>
<line x1="361.0" y1="382.32" x2="364.4" y2="382.32" stroke="#1a1a1a" stroke-width="1.0"/>
<text x="359.4" y="385.56" font-size="9" fill="#1a1a1a" text-anchor="end">12</text>
<text x="339.9" y="431" font-size="10.7" fill="#1a1a1a" text-anchor="middle" transform="rotate(-90 339.9 431)">% Tumor cell growth</text>
<line x1="364.4" y1="484.0" x2="500.4" y2="484.0" stroke="#1a1a1a" stroke-width="1.0"/>
<line x1="385.5" y1="484.0" x2="385.5" y2="486.6" stroke="#1a1a1a" stroke-width="1.0"/>
<line x1="416.6" y1="484.0" x2="416.6" y2="486.6" stroke="#1a1a1a" stroke-width="1.0"/>
<line x1="448.1" y1="484.0" x2="448.1" y2="486.6" stroke="#1a1a1a" stroke-width="1.0"/>
<line x1="479.3" y1="484.0" x2="479.3" y2="486.6" stroke="#1a1a1a" stroke-width="1.0"/>
<rect x="375.93" y="404.82" width="19.15" height="79.38" fill="#ffffff" stroke="#1a1a1a" stroke-width="1.15"/>
<path d="M385.50,401.68L385.50,407.79M382.30,401.68L388.70,401.68M382.30,407.79L388.70,407.79" stroke="#1a1a1a" stroke-width="0.9"/>
<rect x="407.03" y="477.83" width="19.15" height="6.37" fill="#ffffff" stroke="#1a1a1a" stroke-width="1.15"/>
<path d="M416.60,474.86L416.60,480.38M413.40,474.86L419.80,474.86M413.40,480.38L419.80,480.38" stroke="#1a1a1a" stroke-width="0.9"/>
<rect x="438.53" y="455.76" width="19.15" height="28.44" fill="#d8696f" stroke="#1a1a1a" stroke-width="1.15"/>
<path d="M448.10,452.36L448.10,458.73M444.90,452.36L451.30,452.36M444.90,458.73L451.30,458.73" stroke="#1a1a1a" stroke-width="0.9"/>
<rect x="469.73" y="479.11" width="19.15" height="5.09" fill="#636363" stroke="#1a1a1a" stroke-width="1.15"/>
<path d="M479.30,478.09L479.30,480.12M476.10,478.09L482.50,478.09M476.10,480.12L482.50,480.12" stroke="#1a1a1a" stroke-width="0.9"/>
<path d="M382.8,394.3 L382.8,384.2 L450.3,384.2 L450.3,437.3" fill="none" stroke="#b4b4b4" stroke-width="0.9"/>
<path d="M407.30,375.60L407.30,379.00M405.83,376.45L408.77,378.15M408.77,376.45L405.83,378.15" stroke="#1a1a1a" stroke-width="1.3" stroke-linecap="round"/>
<path d="M413.70,375.60L413.70,379.00M412.23,376.45L415.17,378.15M415.17,376.45L412.23,378.15" stroke="#1a1a1a" stroke-width="1.3" stroke-linecap="round"/>
<path d="M420.10,375.60L420.10,379.00M418.63,376.45L421.57,378.15M421.57,376.45L418.63,378.15" stroke="#1a1a1a" stroke-width="1.3" stroke-linecap="round"/>
<path d="M426.50,375.60L426.50,379.00M425.03,376.45L427.97,378.15M427.97,376.45L425.03,378.15" stroke="#1a1a1a" stroke-width="1.3" stroke-linecap="round"/>
<path d="M418,456.7 L418,419.3 L446.1,419.3 L446.1,435.6" fill="none" stroke="#b4b4b4" stroke-width="0.9"/>
<path d="M453.3,434.5 L453.3,419.3 L484,419.3 L484,454.6" fill="none" stroke="#b4b4b4" stroke-width="0.9"/>
<path d="M425.60,410.40L425.60,413.80M424.13,411.25L427.07,412.95M427.07,411.25L424.13,412.95" stroke="#1a1a1a" stroke-width="1.3" stroke-linecap="round"/>
<path d="M432.00,410.40L432.00,413.80M430.53,411.25L433.47,412.95M433.47,411.25L430.53,412.95" stroke="#1a1a1a" stroke-width="1.3" stroke-linecap="round"/>
<path d="M438.40,410.40L438.40,413.80M436.93,411.25L439.87,412.95M439.87,411.25L436.93,412.95" stroke="#1a1a1a" stroke-width="1.3" stroke-linecap="round"/>
<path d="M462.70,410.40L462.70,413.80M461.23,411.25L464.17,412.95M464.17,411.25L461.23,412.95" stroke="#1a1a1a" stroke-width="1.3" stroke-linecap="round"/>
<path d="M469.00,410.40L469.00,413.80M467.53,411.25L470.47,412.95M470.47,411.25L467.53,412.95" stroke="#1a1a1a" stroke-width="1.3" stroke-linecap="round"/>
<path d="M475.30,410.40L475.30,413.80M473.83,411.25L476.77,412.95M476.77,411.25L473.83,412.95" stroke="#1a1a1a" stroke-width="1.3" stroke-linecap="round"/>
<text x="384.6" y="497.0" font-size="9.2" fill="#1a1a1a" text-anchor="middle">EG7.OVA</text>
<text x="385.6" y="507.8" font-size="9.0" fill="#1a1a1a" text-anchor="middle">only</text>
<text x="415.4" y="497.0" font-size="9.0" fill="#1a1a1a" text-anchor="middle">-</text>
<text x="447.1" y="497.0" font-size="9.0" fill="#1a1a1a" text-anchor="middle">-</text>
<text x="478.5" y="497.0" font-size="9.0" fill="#1a1a1a" text-anchor="middle">AB680</text>
<path d="M446.2,499.4 L446.2,504.6 L492.3,504.6 L492.3,499.4" fill="none" stroke="#b4b4b4" stroke-width="0.9"/>
<text x="482.4" y="514.2" font-size="9.0" fill="#1a1a1a" text-anchor="end">AMP</text>
<path d="M407.7,512.3 L407.7,518.5 L492.3,518.5 L492.3,512.3" fill="none" stroke="#b4b4b4" stroke-width="0.9"/>
<text x="450.8" y="532.0" font-size="9.5" fill="#1a1a1a" text-anchor="middle">+ OT-I CD8<tspan font-size="6.2" dy="-3.6">+</tspan><tspan dy="3.6"> T cells</tspan></text>
</svg>
</body></html>
